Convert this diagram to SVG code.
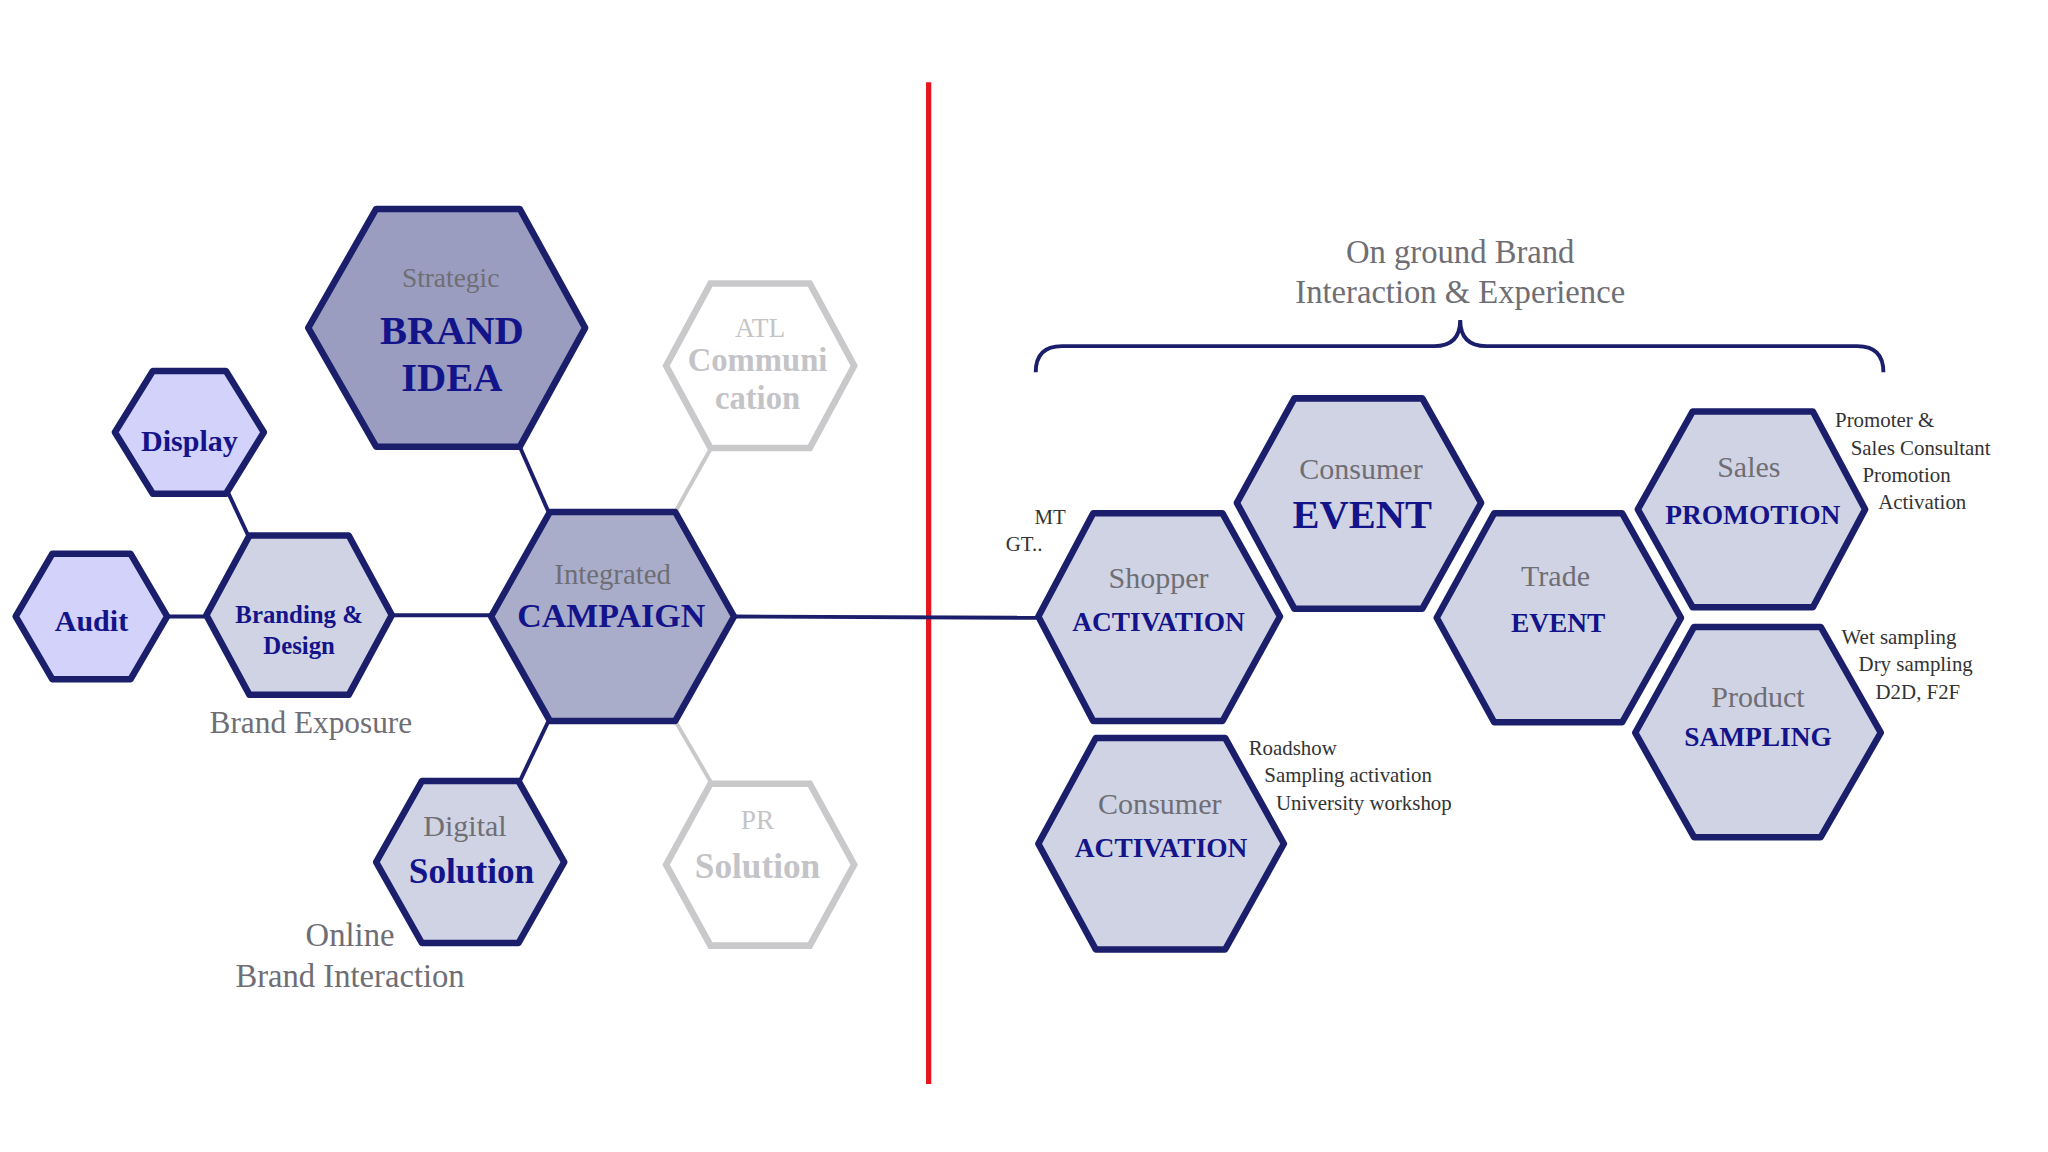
<svg xmlns="http://www.w3.org/2000/svg" width="2048" height="1152" viewBox="0 0 2048 1152">
<style>
.h{stroke:#1b1e6b;stroke-width:5;stroke-linejoin:round;fill:#d0d3e4}
.g{stroke:#c9c9cc;stroke-width:5;fill:#fff}
.c{stroke:#1b1e6b;stroke-width:3;fill:none}
.cg{stroke:#c9c9cc;stroke-width:3;fill:none}
text{font-family:"Liberation Serif","DejaVu Serif",serif;text-anchor:middle}
.t{fill:#6e6e74}
.b{fill:#14148a;font-weight:bold}
.n{fill:#333;font-size:16px;text-anchor:start}
.gt{fill:#c4c4c8}
</style>
<rect width="2048" height="1152" fill="#fff"/>
<g transform="scale(1.3061)">
<line x1="711" y1="63" x2="711" y2="830" stroke="#e8141c" stroke-width="4"/>
<g id="connectors">
<line class="c" x1="175" y1="378" x2="190" y2="410"/>
<line class="c" x1="127" y1="472" x2="158" y2="472"/>
<line class="c" x1="300" y1="471" x2="376" y2="471"/>
<line class="c" x1="398" y1="342" x2="420" y2="392"/>
<line class="cg" x1="545" y1="342" x2="517" y2="392"/>
<line class="c" x1="398" y1="598" x2="420" y2="552"/>
<line class="cg" x1="517" y1="552" x2="545" y2="600"/>
<line class="c" x1="562" y1="472" x2="795" y2="473"/>
<path class="c" d="M793,285 Q793,265 813,265 L1098,265 Q1118,265 1118,245 Q1118,265 1138,265 L1422,265 Q1442,265 1442,285"/>
</g>
<text class="t" x="1118" y="201" font-size="25">On ground Brand</text>
<text class="t" x="1118" y="232" font-size="25">Interaction &amp; Experience</text>
<g id="brandidea"><polygon class="h" style="fill:#9a9dbf" points="288,160 398,160 448,251 398,342 288,342 236,251"/>
<text class="t" x="345" y="220" font-size="21">Strategic</text>
<text class="b" x="346" y="263" font-size="31">BRAND</text>
<text class="b" x="346" y="299" font-size="31">IDEA</text></g>
<g id="atl"><polygon class="g" points="544,217 620,217 654,280 620,343 544,343 510,280"/>
<text class="gt" x="582" y="258" font-size="21">ATL</text>
<text class="gt b" style="fill:#c4c4c8" x="580" y="284" font-size="25">Communi</text>
<text class="gt b" style="fill:#c4c4c8" x="580" y="313" font-size="25">cation</text></g>
<g id="display"><polygon class="h" style="fill:#d2d2fb" points="117,284 173,284 202,331 173,378 117,378 88,331"/>
<text class="b" x="145" y="345" font-size="23">Display</text></g>
<g id="branding"><polygon class="h" points="191,410 267,410 300,471 267,532 191,532 158,471"/>
<text class="b" x="229" y="477" font-size="19">Branding &amp;</text>
<text class="b" x="229" y="501" font-size="19">Design</text></g>
<g id="audit"><polygon class="h" style="fill:#d2d2fb" points="40,424 100,424 128,472 100,520 40,520 12,472"/>
<text class="b" x="70" y="483" font-size="23">Audit</text></g>
<text class="t" x="238" y="561" font-size="24">Brand Exposure</text>
<g id="campaign"><polygon class="h" style="fill:#aaadca" points="421,392 517,392 562,472 517,552 421,552 376,472"/>
<text class="t" x="469" y="447" font-size="22">Integrated</text>
<text class="b" x="468" y="480" font-size="26">CAMPAIGN</text></g>
<g id="digital"><polygon class="h" points="323,598 397,598 432,660 397,722 323,722 288,660"/>
<text class="t" x="356" y="640" font-size="23">Digital</text>
<text class="b" x="361" y="676" font-size="27">Solution</text></g>
<text class="t" x="268" y="724" font-size="25">Online</text>
<text class="t" x="268" y="756" font-size="25">Brand Interaction</text>
<g id="pr"><polygon class="g" points="544,600 620,600 654,662 620,724 544,724 510,662"/>
<text class="gt" x="580" y="635" font-size="21">PR</text>
<text class="gt b" style="fill:#c4c4c8" x="580" y="672" font-size="27">Solution</text></g>
<g id="shopper"><polygon class="h" points="837,393 936,393 980,472 936,552 837,552 795,472"/>
<text class="t" x="887" y="450" font-size="23">Shopper</text>
<text class="b" x="887" y="483" font-size="21">ACTIVATION</text></g>
<text class="n" x="792" y="401">MT</text>
<text class="n" x="770" y="422">GT..</text>
<g id="cevent"><polygon class="h" points="991,305 1089,305 1134,385 1089,466 991,466 947,385"/>
<text class="t" x="1042" y="367" font-size="23">Consumer</text>
<text class="b" x="1043" y="404" font-size="31">EVENT</text></g>
<g id="trade"><polygon class="h" points="1144,393 1242,393 1287,473 1242,553 1144,553 1100,473"/>
<text class="t" x="1191" y="449" font-size="23">Trade</text>
<text class="b" x="1193" y="484" font-size="21">EVENT</text></g>
<g id="sales"><polygon class="h" points="1296,315 1388,315 1428,390 1388,465 1296,465 1254,390"/>
<text class="t" x="1339" y="365" font-size="23">Sales</text>
<text class="b" x="1342" y="401" font-size="21">PROMOTION</text></g>
<text class="n" x="1405" y="327">Promoter &amp;</text>
<text class="n" x="1417" y="348">Sales Consultant</text>
<text class="n" x="1426" y="369">Promotion</text>
<text class="n" x="1438" y="390">Activation</text>
<g id="product"><polygon class="h" points="1297,480 1394,480 1440,561 1394,641 1297,641 1252,561"/>
<text class="t" x="1346" y="541" font-size="23">Product</text>
<text class="b" x="1346" y="571" font-size="21">SAMPLING</text></g>
<text class="n" x="1410" y="493">Wet sampling</text>
<text class="n" x="1423" y="514">Dry sampling</text>
<text class="n" x="1436" y="535">D2D, F2F</text>
<g id="cactivation"><polygon class="h" points="839,565 938,565 983,646 938,727 839,727 795,646"/>
<text class="t" x="888" y="623" font-size="23">Consumer</text>
<text class="b" x="889" y="656" font-size="21">ACTIVATION</text></g>
<text class="n" x="956" y="578">Roadshow</text>
<text class="n" x="968" y="599">Sampling activation</text>
<text class="n" x="977" y="620">University workshop</text>
</g>
</svg>
